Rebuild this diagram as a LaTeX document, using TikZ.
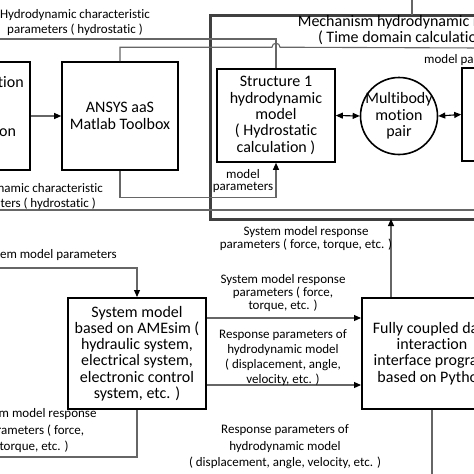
\documentclass[tikz,border=0pt]{standalone}
\usepackage{fontspec}
\setmainfont{Carlito}[Ligatures=NoCommon]
\usetikzlibrary{positioning, calc, arrows.meta}
\newcommand{\boxfont}{\fontsize{16}{16.3}\selectfont}
\newcommand{\labfont}{\fontsize{13}{15}\selectfont}

\begin{document}
\begin{tikzpicture}[x=1pt, y=-1pt,
    blk/.style={draw, line width=1.6pt, align=center, inner sep=2pt, font=\boxfont},
    lab/.style={align=center, inner sep=0pt, font=\labfont},
    conn/.style={draw=black!60, line width=1.1pt},
    >={Triangle[length=7pt, width=6pt, color=black]}]

  \clip (0,0) rectangle (474,474);

  % mechanism frame
  \draw[line width=3pt, draw=black!75] (210,15) rectangle (602,219);
  \node[align=center, inner sep=0pt, font=\fontsize{16}{15.5}\selectfont] (mtitle) at (406,30)
    {Mechanism hydrodynamic model\\( Time domain calculation )};

  % upper row
  \node[blk, minimum width=96pt, minimum height=108pt] (prep) at (-18,116) {};
  \node[align=center, font=\boxfont] at (-18,107) {Construction\\[32.6pt]simulation};
  \node[blk, minimum width=116pt, minimum height=108pt] (ansys) at (120,116) {ANSYS aaS\\Matlab Toolbox};
  \node[blk, minimum width=118pt, minimum height=93pt] (str1) at (276,115.5)
    {Structure 1\\hydrodynamic\\model\\( Hydrostatic\\calculation )};
  \node[draw, circle, line width=1.6pt, minimum size=77pt] (mbp) at (399,116) {};
  \node[align=center, font=\boxfont] at (mbp) {Multibody\\motion\\pair};
  \node[blk, minimum width=118pt, minimum height=93pt] (str2) at (521,114.5) {};

  % lower row
  \node[blk, line width=2pt, minimum width=138pt, minimum height=111pt] (sysm) at (137,353.5)
    {System model\\based on AMEsim (\\hydraulic system,\\electrical system,\\electronic control\\system, etc. )};
  \node[blk, line width=2pt, minimum width=140pt, minimum height=111pt] (fcp) at (432,353.5)
    {Fully coupled data\\interaction\\interface program\\based on Python};

  % free ends
  \coordinate (hcA) at (-5,39);
  \coordinate (hcB) at (-5,210);
  \coordinate (hcC) at (480,210);
  \coordinate (mpR) at (480,48);
  \coordinate (hop) at ($(str1.north)+(0,-21)$);
  \coordinate (mtop) at (412,-5);
  \coordinate (mbot) at (391,219);
  \coordinate (spar) at (-5,268);
  \coordinate (sres) at (-5,457);
  \coordinate (fout) at (432,480);

  % connectors
  \draw[conn,->] (prep.east) -- (ansys.west);
  \draw[conn] (str1.north) |- (hcA);
  \draw[conn] (ansys.north) |- ([xshift=-4pt]hop) arc[start angle=180, end angle=0, radius=4pt] -- (mpR);
  \draw[conn,->] (ansys.south) -- ++(0,27) -| (str1.south);
  \draw[conn] (hcB) -- (hcC);
  \draw[conn] (mtop) -- (mtop |- 0,15);
  \draw[<->, line width=1.1pt] (str1.east) -- (mbp.west);
  \draw[<->, line width=1.1pt] (mbp.east) -- (str2.west);
  \draw[conn,->] (mbot |- fcp.north) -- (mbot);
  \draw[conn,->] (spar) -| (sysm.north);
  \draw[conn,->] ([yshift=35.5pt]sysm.east) -- ([yshift=35.5pt]fcp.west);
  \draw[conn,->] ([yshift=-31.5pt]sysm.east) -- ([yshift=-31.5pt]fcp.west);
  \draw[conn] (sysm.south) |- (sres);
  \draw[conn] (fcp.south) -- (fout);

  % labels
  \node[lab] (lhcT) at (75,23) {Hydrodynamic characteristic\\parameters ( hydrostatic )};
  \node[lab] (lhcB) at (28,197) {Hydrodynamic characteristic\\parameters ( hydrostatic )};
  \node[lab, font=\fontsize{13}{12}\selectfont] (lmp1) at (243,181) {model\\parameters};
  \node[lab, anchor=west] (lmp2) at (424,60) {model parameters};
  \node[lab, font=\fontsize{13}{13}\selectfont] (lsrT) at (306,239) {System model response\\parameters ( force, torque, etc. )};
  \node[lab, font=\fontsize{13}{13}\selectfont] (lsrM) at (283,293) {System model response\\parameters ( force,\\torque, etc. )};
  \node[lab] (lrpM) at (283,358) {Response parameters of\\hydrodynamic model\\( displacement, angle,\\velocity, etc. )};
  \node[lab, font=\fontsize{13}{16.5}\selectfont] (lrpB) at (285,447) {Response parameters of\\hydrodynamic model\\( displacement, angle, velocity, etc. )};
  \node[lab] (lsp) at (48,255) {System model parameters};
  \node[lab, font=\fontsize{13}{16.5}\selectfont] (lsrL) at (34,431) {System model response\\parameters ( force,\\torque, etc. )};
\end{tikzpicture}
\end{document}
